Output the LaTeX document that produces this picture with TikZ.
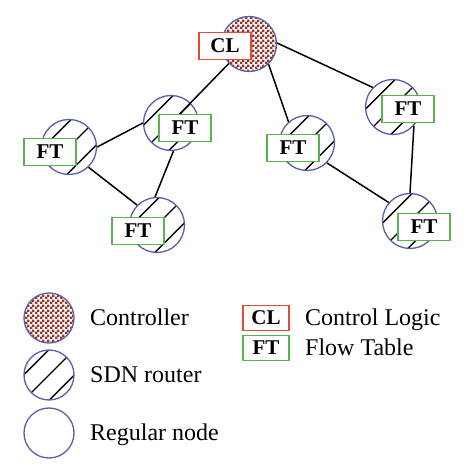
\documentclass[tikz,border=0pt]{standalone}
\usepackage{fontspec}
\setmainfont{Liberation Serif}
\usetikzlibrary{patterns}
\definecolor{nodeblue}{RGB}{88,94,168}
\definecolor{ctrlred}{RGB}{150,50,36}
\definecolor{clred}{RGB}{226,74,62}
\definecolor{ftgreen}{RGB}{88,180,80}
\pgfdeclarepatternformonly{finecheck}{\pgfpointorigin}{\pgfqpoint{5pt}{5pt}}{\pgfqpoint{5pt}{5pt}}{%
    \pgfpathrectangle{\pgfpointorigin}{\pgfqpoint{2.7pt}{2.7pt}}%
    \pgfpathrectangle{\pgfqpoint{2.5pt}{2.5pt}}{\pgfqpoint{2.7pt}{2.7pt}}%
    \pgfusepath{fill}}

\begin{document}
\begin{tikzpicture}[x=1pt, y=1pt,
        plainnode/.style={draw=nodeblue, line width=1.3pt, circle, minimum size=55pt, inner sep=0pt},
        ctrlnode/.style={plainnode, pattern=finecheck, pattern color=ctrlred},
        routernode/.style={plainnode, path picture={
                \foreach \d in {-1,0,1}
                    \draw[draw=black, line width=1.4pt] (path picture bounding box.center)
                    ++(\d*12.7,-\d*12.7) ++(-40,-40) -- ++(80,80);
            }},
        tablebox/.style={draw, line width=1.2pt, fill=white, font=\fontsize{21}{24}\selectfont\bfseries,
            minimum width=52pt, minimum height=27pt, inner sep=0pt},
        ftbox/.style={tablebox, draw=ftgreen},
        clbox/.style={tablebox, draw=clred},
        link/.style={line width=1.5pt},
        legtext/.style={anchor=base west, font=\fontsize{24}{28}\selectfont, inner sep=0pt}]
    \useasboundingbox (0,0) rectangle (474,474);

    % network
    \node[ctrlnode] (ctrl) at (249,430) {};
    \node[routernode] (ra) at (69,327) {};
    \node[routernode] (rb) at (171,351) {};
    \node[routernode] (rc) at (157,249) {};
    \node[routernode] (rd) at (307,331) {};
    \node[routernode] (re) at (393,367) {};
    \node[routernode] (rf) at (410,253) {};

    \draw[link] (ctrl.-136) -- (rb.center);
    \draw[link] (ctrl.-46) -- (rd.131);
    \draw[link] (ctrl.2) -- (re.136);
    \draw[link] (ra.0) -- (rb.180);
    \draw[link] (ra.-46) -- (rc.135);
    \draw[link] (rb.-85) -- (rc.94);
    \draw[link] (rd.-45) -- (rf.139);
    \draw[link] (re.-42) -- (rf.90);

    \node[clbox] (cl) at (225,428) {CL};
    \node[ftbox] (fta) at (50,322) {FT};
    \node[ftbox] (ftb) at (185,346) {FT};
    \node[ftbox] (ftc) at (138,243) {FT};
    \node[ftbox] (ftd) at (293,326) {FT};
    \node[ftbox] (fte) at (408,365) {FT};
    \node[ftbox] (ftf) at (424,247) {FT};

    % legend
    \node[ctrlnode, minimum size=50pt] (legctrl) at (49,156) {};
    \node[routernode, minimum size=50pt] (legsdn) at (49,99) {};
    \node[plainnode, minimum size=50pt] (legplain) at (49,41) {};
    \node[legtext] (txctrl) at (90,148) {Controller};
    \node[legtext] (txsdn) at (90,91) {SDN router};
    \node[legtext] (txplain) at (90,33) {Regular node};

    \node[clbox, minimum width=46pt, minimum height=25pt] (legcl) at (266,156) {CL};
    \node[ftbox, minimum width=46pt, minimum height=25pt] (legft) at (266,126) {FT};
    \node[legtext] (txcl) at (305,148) {Control Logic};
    \node[legtext] (txft) at (305,118) {Flow Table};
\end{tikzpicture}
\end{document}
